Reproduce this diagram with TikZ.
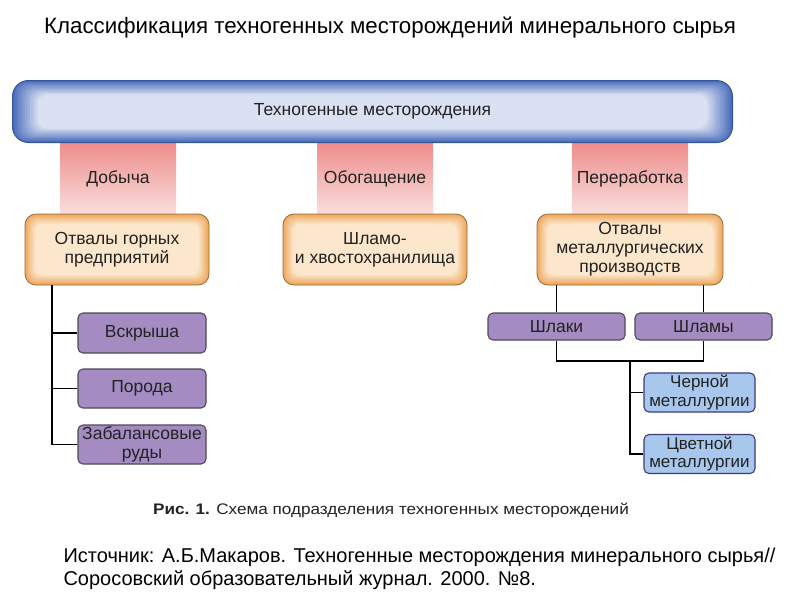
\documentclass[tikz,border=0pt]{standalone}
\usepackage{fontspec}
\setmainfont{Liberation Sans}
\newfontfamily\capfont[FakeStretch=1.12]{Liberation Sans}
\usepackage{tikz}
\usetikzlibrary{positioning}
\definecolor{barline}{HTML}{34559A}
\definecolor{barrim}{HTML}{4A6DBB}
\definecolor{barin}{HTML}{DAE1F2}
\definecolor{stemtop}{HTML}{EE8E8C}
\definecolor{stembot}{HTML}{F9E0DE}
\definecolor{orline}{HTML}{9B6A38}
\definecolor{orrim}{HTML}{EEA65A}
\definecolor{orin}{HTML}{FCE7CC}
\definecolor{purfill}{HTML}{A48CC2}
\definecolor{blufill}{HTML}{A7C7EC}
\definecolor{boxrim}{HTML}{4E4A58}
\definecolor{txt}{HTML}{222222}
% soft inner glow of a node: x-step, y-step, rim, core, radius
\newcommand{\innerglow}[5]{%
  \foreach \g in {1,...,10}{
    \pgfmathsetmacro{\mix}{100-10*\g}
    \fill[#3!\mix!#4,rounded corners=#5]
      ([shift={(\g*#1,-\g*#2)}]path picture bounding box.north west) rectangle
      ([shift={(-\g*#1,\g*#2)}]path picture bounding box.south east);
  }}

\begin{document}
\begin{tikzpicture}[x=1pt,y=-1pt,
  every node/.style={text=txt},
  topbar/.style={rounded corners=16pt,draw=barline,line width=1pt,fill=barrim,
    minimum width=720pt,minimum height=62pt,font=\fontsize{17.5}{20}\selectfont,
    path picture={\innerglow{2.5pt}{1.4pt}{barrim}{barin}{10pt}}},
  stem/.style={top color=stemtop,bottom color=stembot,minimum width=116pt,
    minimum height=71pt,font=\fontsize{17.5}{20}\selectfont},
  srcbox/.style={rounded corners=11pt,draw=orline,line width=0.8pt,fill=orrim,
    minimum width=184pt,minimum height=71pt,align=center,
    font=\fontsize{17.5}{19}\selectfont,
    path picture={\innerglow{1pt}{1pt}{orrim}{orin}{8pt}}},
  kind/.style={rounded corners=5pt,draw=boxrim,line width=1.1pt,fill=purfill,
    minimum width=128pt,align=center,font=\fontsize{17.5}{19}\selectfont},
  metal/.style={rounded corners=5pt,draw=boxrim!80!blue,line width=1.1pt,fill=blufill,
    minimum width=111pt,minimum height=39pt,align=center,inner sep=1pt,
    font=\fontsize{17}{18.5}\selectfont},
  tree/.style={draw=black,line width=1.6pt}]
  \useasboundingbox (0,0) rectangle (800,600);
  \fill[white] (0,0) rectangle (800,600);

  % Title
  \node[font=\fontsize{22.3}{25}\selectfont,text=black] (title) at (390,28)
    {Классификация техногенных месторождений минерального сырья};

  % Stems under the bar
  \foreach \n/\x/\t in {1/118/Добыча,2/375/Обогащение,3/630/Переработка}{
    \node[stem] (s\n) at (\x,179) {\t};
  }

  % Top bar
  \node[topbar] (root) at (372.5,111.5) {Техногенные месторождения};

  % Deposit groups
  \node[srcbox] (ob1) at (117,249.5) {Отвалы горных\\предприятий};
  \node[srcbox] (ob2) at (375,249.5) {Шламо-\\и хвостохранилища};
  \node[srcbox,minimum width=186pt,inner sep=1pt] (ob3) at (630,249.5)
    {Отвалы\\металлургических\\производств};

  % Left branch
  \node[kind,minimum height=40pt] (pv1) at (142,333) {Вскрыша};
  \node[kind,minimum height=39pt] (pv2) at (142,388.5) {Порода};
  \node[kind,minimum height=39pt,inner sep=1pt] (pv3) at (142,444.5) {Забалансовые\\руды};
  \coordinate (t1) at (52,285);
  \draw[tree] (t1) |- (pv3.west);
  \foreach \k in {1,2}{
    \draw[tree] (t1 |- pv\k.west) -- (pv\k.west);
  }

  % Right branch
  \node[kind,minimum width=137pt,minimum height=27pt] (sl) at (556.5,326.5) {Шлаки};
  \node[kind,minimum width=137pt,minimum height=27pt] (sm) at (703.5,326.5) {Шламы};
  \draw[tree] (sl.north |- ob3.south) -- (sl.north);
  \draw[tree] (sm.north |- ob3.south) -- (sm.north);
  \coordinate (jn) at (630,361);
  \draw[tree] (sl.south) |- (jn) -| (sm.south);

  \node[metal] (bm1) at (699.5,392.5) {Черной\\металлургии};
  \node[metal] (bm2) at (699.5,454) {Цветной\\металлургии};
  \draw[tree] (jn) |- (bm2.west);
  \draw[tree] (jn |- bm1.west) -- (bm1.west);

  % Caption and source
  \node[font=\capfont\fontsize{15.3}{17}\selectfont] (cap) at (391,510)
    {\textbf{Рис. 1.} Схема подразделения техногенных месторождений};
  \node[anchor=north west,align=left,text=black,
    font=\fontsize{20}{23}\selectfont] (src) at (60,544)
    {Источник: А.Б.Макаров. Техногенные месторождения минерального сырья//\\
     Соросовский образовательный журнал. 2000. №8.};
\end{tikzpicture}
\end{document}
